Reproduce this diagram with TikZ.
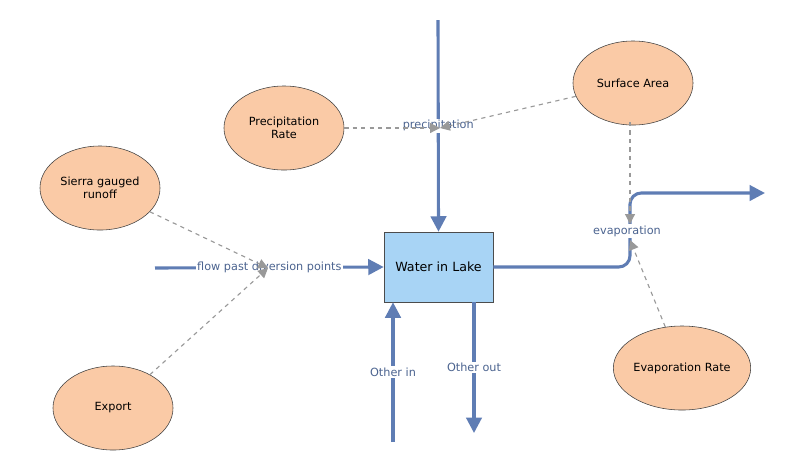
\documentclass[tikz,border=0pt]{standalone}
\usepackage{fontspec}
\setmainfont{DejaVu Sans}
\usetikzlibrary{shapes, arrows.meta, positioning}
\definecolor{flowblue}{RGB}{95,125,180}
\definecolor{peach}{RGB}{250,202,166}
\definecolor{stockblue}{RGB}{168,212,245}
\tikzset{
  var/.style   = {draw=black!75, fill=peach, ellipse, minimum width=3cm, minimum height=2.1cm, align=center, font=\footnotesize, inner sep=0pt},
  stock/.style = {draw=black!70, fill=stockblue, minimum width=2.725cm, minimum height=1.75cm, font=\small},
  flow/.style  = {draw=flowblue, line width=2.2pt, -{Triangle[length=11pt,width=11pt]}},
  rate/.style  = {fill=white, inner sep=1pt, font=\footnotesize, text=flowblue!80!black},
  link/.style  = {draw=gray!80, thick, dashed, -{Triangle[length=7pt,width=7pt]}}
}
\begin{document}
\begin{tikzpicture}[x=0.025cm, y=-0.025cm]
\useasboundingbox (0,0) rectangle (800,470);

% nodes
\node [stock] at (438.5,267) (lake)   {Water in Lake};
\node [var]   at (284,128)   (prate)  {Precipitation\\Rate};
\node [var]   at (633,83)    (area)   {Surface Area};
\node [var]   at (100,188)   (sierra) {Sierra gauged\\runoff};
\node [var]   at (113,408)   (export) {Export};
\node [var]   at (682,368)   (erate)  {Evaporation Rate};

\coordinate (ptop)  at (438,20);
\coordinate (fleft) at (155,268);
\coordinate (eout)  at (765,193);
\coordinate (ibot)  at (393,442);
\coordinate (obot)  at (474,433);
\coordinate (atop)  at (630,122);

% flows
\path [flow] (ptop) -- (lake.north)
  node [rate, pos=0.5] (precip) {precipitation};
\path [flow] (fleft) -- (lake.west)
  node [rate, pos=0.5] (fpast) {flow past diversion points};
\path [flow, rounded corners=8pt] (lake.east) -- (630,267) -- (630,193) -- (eout);
\node [rate] at (627,231) (evap) {evaporation};
\path [flow] (ibot) -- (lake.south -| ibot)
  node [rate, pos=0.5] (otherin) {Other in};
\path [flow] (lake.south -| obot) -- (obot)
  node [rate, pos=0.5] (otherout) {Other out};

% links
\path [link] (prate) -- (440,128);
\path [link] (area) -- (440,128);
\path [link] (atop) -- (630,224);
\path [link] (erate) -- (630,240);
\path [link] (sierra) -- (268,268);
\path [link] (export) -- (268,268);

\end{tikzpicture}
\end{document}
